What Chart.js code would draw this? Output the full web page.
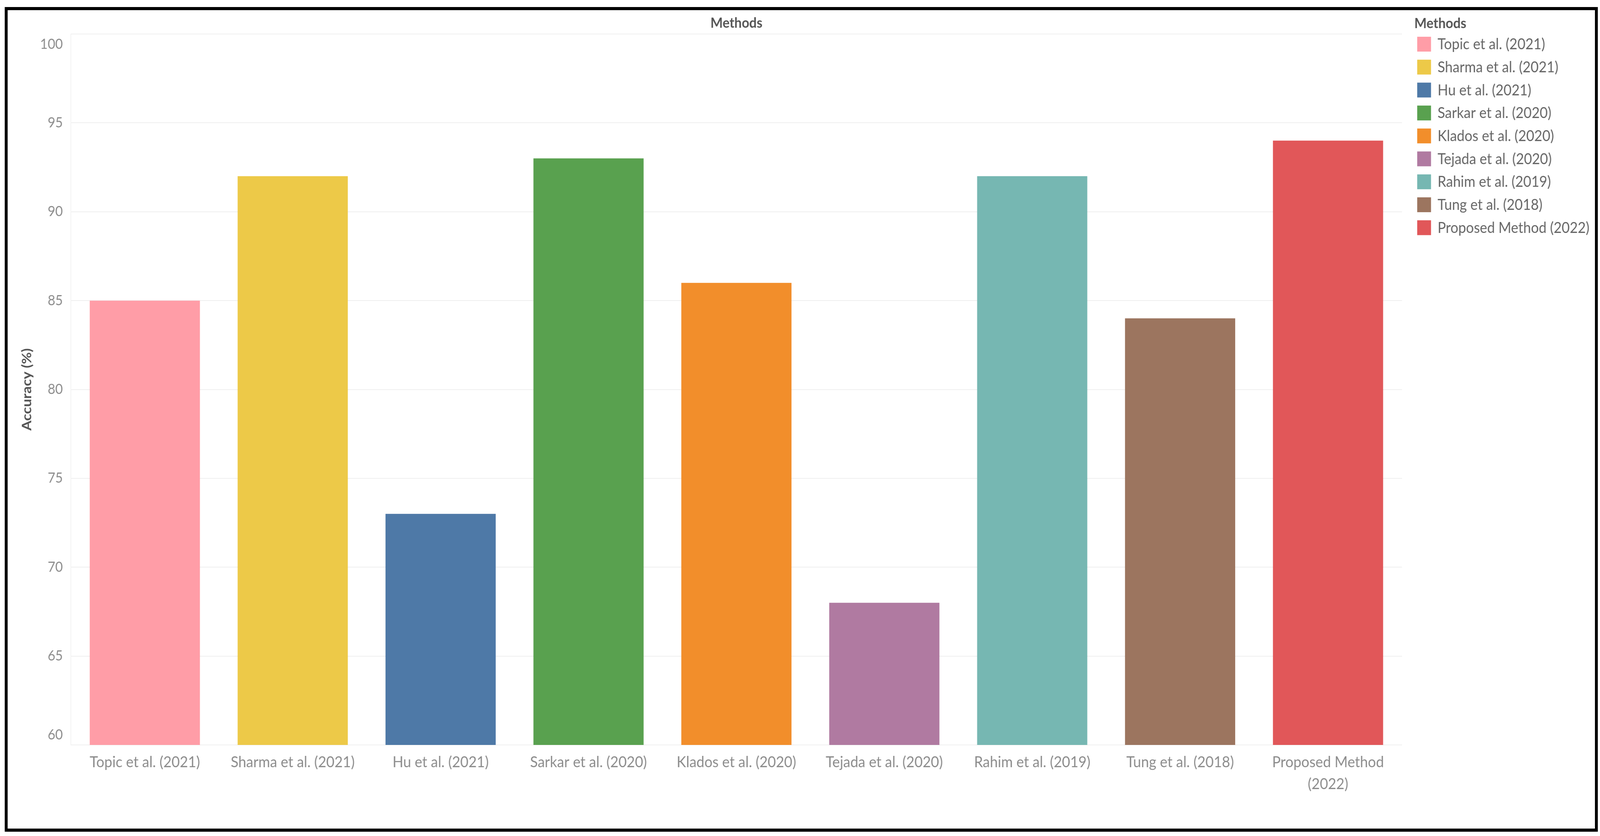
<!DOCTYPE html>
<html>
<head>
<meta charset="utf-8">
<script src="https://cdn.jsdelivr.net/npm/chart.js@4.4.1/dist/chart.umd.min.js"></script>
<style>
  html, body { margin: 0; padding: 0; background: #ffffff; overflow: hidden; }
  #wrap { width: 4403px; height: 2139px; position: absolute; left: 0; top: 0; transform-origin: 0 0; }
  #c { display: block; }
</style>
</head>
<body>
<div id="wrap"><canvas id="c"></canvas></div>
<script>
// ---- data ----
const categories = [
  'Topic et al. (2021)', 'Sharma et al. (2021)', 'Hu et al. (2021)',
  'Sarkar et al. (2020)', 'Klados et al. (2020)', 'Tejada et al. (2020)',
  'Rahim et al. (2019)', 'Tung et al. (2018)', 'Proposed Method (2022)'
];
const axisLabels = [
  'Topic et al. (2021)', 'Sharma et al. (2021)', 'Hu et al. (2021)',
  'Sarkar et al. (2020)', 'Klados et al. (2020)', 'Tejada et al. (2020)',
  'Rahim et al. (2019)', 'Tung et al. (2018)', ['Proposed Method', '(2022)']
];
const accuracy = [85, 92, 73, 93, 86, 68, 92, 84, 94];
const barColors = ['#FF9DA7', '#EDC948', '#4E79A7', '#59A14F', '#F28E2B',
                   '#B07AA1', '#76B7B2', '#9C755F', '#E15759'];
const yMin = 60, yMax = 100, yStep = 5;
const titleText = 'Methods';
const yTitle = 'Accuracy (%)';
const legendTitle = 'Methods';

const FONT = 'Lato';

// fit the 4403x2139 design into whatever viewport we get
(function fit() {
  const w = window.innerWidth || 4403, h = window.innerHeight || 2139;
  const sx = w / 4403, sy = h / 2139;
  if (Math.abs(sx - 1) > 0.002 || Math.abs(sy - 1) > 0.002) {
    document.getElementById('wrap').style.transform = 'scale(' + sx + ',' + sy + ')';
  }
})();

const framePlugin = {
  id: 'frame',
  afterDraw(chart) {
    const ctx = chart.ctx;
    ctx.save();
    ctx.strokeStyle = '#000000';
    ctx.lineWidth = 8;
    ctx.strokeRect(17, 22, 4376, 2102);

    const ys = chart.scales.y;
    ctx.fillStyle = '#8c8c8c';
    ctx.font = '36px ' + FONT;
    ctx.textAlign = 'right';
    ctx.textBaseline = 'middle';
    const half = 26;
    ys.ticks.forEach(t => {
      let py = ys.getPixelForValue(t.value);
      py = Math.max(ys.top + half, Math.min(ys.bottom - half, py));
      ctx.fillText(String(t.value), chart.chartArea.left - 22, py);
    });

    const lx = 3892;
    ctx.textAlign = 'left';
    ctx.fillStyle = '#555555';
    ctx.font = 'bold 36px ' + FONT;
    ctx.fillText(legendTitle, lx, 60);
    ctx.font = '38px ' + FONT;
    categories.forEach((name, i) => {
      const cy = 113 + i * 58.7;
      ctx.fillStyle = barColors[i];
      ctx.fillRect(3900, cy - 19, 38, 38);
      ctx.fillStyle = '#666666';
      ctx.fillText(name, 3956, cy + 1);
    });
    ctx.restore();
  }
};

new Chart(document.getElementById('c'), {
  type: 'bar',
  data: {
    labels: axisLabels,
    datasets: [{
      label: 'Accuracy',
      data: accuracy,
      backgroundColor: barColors,
      borderWidth: 0,
      barPercentage: 0.745,
      categoryPercentage: 1.0
    }]
  },
  options: {
    responsive: true,
    maintainAspectRatio: false,
    animation: false,
    layout: { padding: { left: 20, right: 545, top: 20, bottom: 0 } },
    plugins: {
      legend: { display: false },
      tooltip: { enabled: false },
      title: {
        display: true,
        text: titleText,
        fullSize: false,
        color: '#555555',
        font: { family: FONT, size: 36, weight: 'bold', lineHeight: 1.2 },
        padding: { top: 18, bottom: 5.8 }
      }
    },
    scales: {
      x: {
        grid: { display: false, drawTicks: false },
        border: { display: false },
        ticks: {
          color: '#8c8c8c',
          font: { family: FONT, size: 39, lineHeight: 1.45 },
          padding: 16,
          maxRotation: 0,
          autoSkip: false
        },
        afterFit(scale) { scale.height = 233; }
      },
      y: {
        min: yMin,
        max: yMax,
        grid: { color: '#efefef', lineWidth: 2, drawTicks: false },
        border: { display: true, color: '#f2f2f2', width: 2 },
        ticks: { display: false, stepSize: yStep },
        title: {
          display: true,
          text: yTitle,
          color: '#555555',
          font: { family: FONT, size: 37, weight: 'bold', lineHeight: 1.2 },
          padding: { top: 32, bottom: 0 }
        },
        afterFit(scale) { scale.width = 175; }
      }
    }
  },
  plugins: [framePlugin]
});
</script>
</body>
</html>
